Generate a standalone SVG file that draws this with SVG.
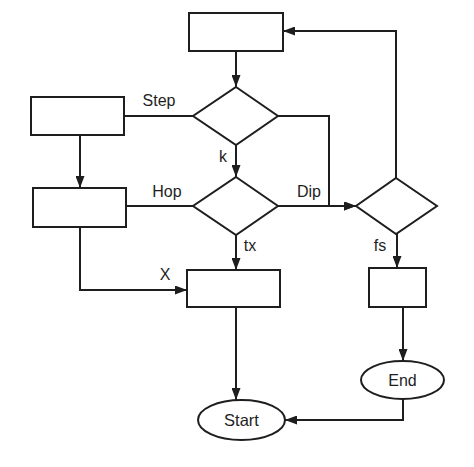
<svg xmlns="http://www.w3.org/2000/svg" width="474" height="467" viewBox="0 0 474 467">
<defs>
<marker id="arr" viewBox="0 0 12 9" refX="12" refY="4.5" markerWidth="12" markerHeight="9" markerUnits="userSpaceOnUse" orient="auto">
<path d="M0,0 L12,4.5 L0,9 Z" fill="#1e1e1e"/>
</marker>
<style>
.s{fill:#fff;stroke:#1e1e1e;stroke-width:2}
.c{fill:none;stroke:#1e1e1e;stroke-width:2}
.a{marker-end:url(#arr)}
text{font-family:"Liberation Sans",Arial,sans-serif;font-size:16px;fill:#1e1e1e;text-anchor:middle}
</style>
</defs>
<rect width="474" height="467" fill="#fff"/>
<g id="connectors">
<path class="c a" d="M236,51 V87"/>
<path class="c" d="M193,116 H124"/>
<path class="c a" d="M80,135 V188"/>
<path class="c a" d="M236,145 V177"/>
<path class="c" d="M193,206 H126"/>
<path class="c a" d="M278,206 H356"/>
<path class="c a" d="M278,116 H329 V206 H356"/>
<path class="c a" d="M396,178 V31 H283"/>
<path class="c a" d="M236,235 V270"/>
<path class="c a" d="M80,227 V290 H187"/>
<path class="c a" d="M397,234 V268"/>
<path class="c a" d="M403,307 V361"/>
<path class="c a" d="M236,307 V400"/>
<path class="c a" d="M403,399 V420 H285"/>
<text x="159" y="106">Step</text>
<text x="223" y="162">k</text>
<text x="167" y="196.5">Hop</text>
<text x="309" y="196.5">Dip</text>
<text x="250" y="251">tx</text>
<text x="380" y="251">fs</text>
<text x="165" y="280">X</text>
</g>
<g id="n1"><rect class="s" x="189" y="13" width="94" height="38"/></g>
<g id="d1"><path class="s" d="M236,87 L278,116 L236,145 L193,116 Z"/></g>
<g id="n2"><rect class="s" x="31" y="97" width="93" height="38"/></g>
<g id="n3"><rect class="s" x="33" y="188" width="93" height="39"/></g>
<g id="d2"><path class="s" d="M236,177 L278,206 L236,235 L193,206 Z"/></g>
<g id="d3"><path class="s" d="M396,178 L437,206 L396,234 L356,206 Z"/></g>
<g id="n4"><rect class="s" x="187" y="270" width="93" height="37"/></g>
<g id="n5"><rect class="s" x="369" y="268" width="57" height="39"/></g>
<g id="end"><ellipse class="s" cx="402.5" cy="380" rx="41.5" ry="19"/><text x="402.5" y="386">End</text></g>
<g id="start"><ellipse class="s" cx="241.5" cy="420" rx="43.5" ry="20"/><text x="241.5" y="426" style="font-size:16.5px">Start</text></g>
</svg>
